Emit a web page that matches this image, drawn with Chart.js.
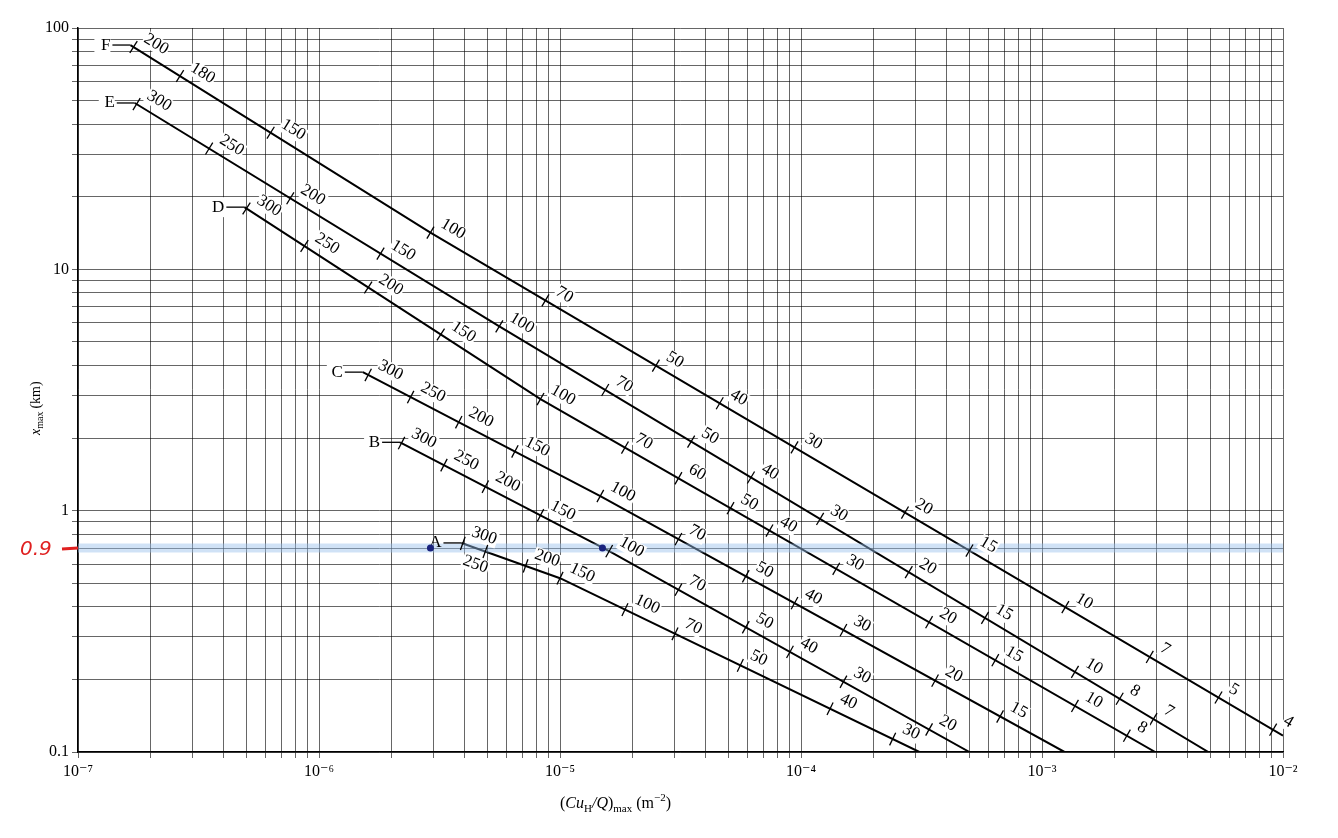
<!DOCTYPE html>
<html><head><meta charset="utf-8">
<script src="https://cdn.jsdelivr.net/npm/chart.js@4.4.1/dist/chart.umd.min.js"></script>
<style>html,body{margin:0;padding:0;background:#fff}#wrap{width:1338px;height:838px}</style>
</head><body><div id="wrap"><canvas id="c"></canvas></div>
<script>
// Curves (x = (Cu_H/Q)max, y = xmax km)
const curveNames = ['F','E','D','C','B','A'];
const lineF = [[1.65e-7,85],[2.9e-6,14.2],[1e-2,0.117]];
const lineE = [[1.72e-7,48.9],[5.6e-6,5.8],[4.9e-3,0.1]];
const lineD = [[4.9e-7,18.1],[8.3e-6,2.9],[2.95e-3,0.1]];
const lineC = [[1.52e-6,3.75],[1.47e-5,1.15],[1.24e-3,0.1]];
const lineB = [[2.17e-6,1.92],[1.6e-5,0.68],[5.0e-4,0.1]];
const lineA = [[3.9e-6,0.735],[1.0e-5,0.525],[3.1e-4,0.1]];
// labels along each curve: [x, text, below?]
const labF = [[1.7e-7,'200'],[2.65e-7,'180'],[6.3e-7,'150'],[2.9e-6,'100'],[8.7e-6,'70'],[2.5e-5,'50'],[4.6e-5,'40'],[9.4e-5,'30'],[2.7e-4,'20'],[5e-4,'15'],[1.25e-3,'10'],[2.8e-3,'7'],[5.4e-3,'5'],[9.1e-3,'4']];
const labE = [[1.75e-7,'300'],[3.5e-7,'250'],[7.6e-7,'200'],[1.8e-6,'150'],[5.6e-6,'100'],[1.54e-5,'70'],[3.5e-5,'50'],[6.2e-5,'40'],[1.2e-4,'30'],[2.8e-4,'20'],[5.8e-4,'15'],[1.37e-3,'10'],[2.1e-3,'8'],[2.9e-3,'7']];
const labD = [[5e-7,'300'],[8.7e-7,'250'],[1.6e-6,'200'],[3.2e-6,'150'],[8.3e-6,'100'],[1.86e-5,'70'],[3.1e-5,'60'],[5.1e-5,'50'],[7.4e-5,'40'],[1.4e-4,'30'],[3.4e-4,'20'],[6.4e-4,'15'],[1.37e-3,'10'],[2.25e-3,'8']];
const labC = [[1.6e-6,'300'],[2.4e-6,'250'],[3.8e-6,'200'],[6.5e-6,'150'],[1.47e-5,'100'],[3.1e-5,'70'],[5.9e-5,'50'],[9.4e-5,'40'],[1.5e-4,'30'],[3.6e-4,'20'],[6.7e-4,'15']];
const labB = [[2.2e-6,'300'],[3.3e-6,'250'],[4.9e-6,'200'],[8.3e-6,'150'],[1.6e-5,'100'],[3.1e-5,'70'],[5.9e-5,'50'],[9e-5,'40'],[1.5e-4,'30'],[3.4e-4,'20']];
const labA = [[3.95e-6,'300'],[4.9e-6,'250',true],[7.2e-6,'200'],[1e-5,'150'],[1.86e-5,'100'],[3e-5,'70'],[5.6e-5,'50'],[1.32e-4,'40'],[2.4e-4,'30']];
const xMajor = [1e-7,1e-6,1e-5,1e-4,1e-3,1e-2];
const xMajorLabels = ['10⁻⁷','10⁻⁶','10⁻⁵','10⁻⁴','10⁻³','10⁻²'];
const yMajor = [0.1,1,10,100];
const yMajorLabels = ['0.1','1','10','100'];
const markY = 0.70;
const markPts = [[2.9e-6,0.70],[1.5e-5,0.70]];

const lines=[lineF,lineE,lineD,lineC,lineB,lineA];
const labs=[labF,labE,labD,labC,labB,labA];
function gridVals(a,b){const v=[];for(let e=a;e<b;e++)for(let m=1;m<10;m++)v.push(m*Math.pow(10,e));v.push(Math.pow(10,b));return v;}
function yAt(line,x){const lx=Math.log10(x);for(let i=0;i<line.length-1;i++){const a=line[i],b=line[i+1];const la=Math.log10(a[0]),lb=Math.log10(b[0]);if(lx<=lb||i==line.length-2){const t=(lx-la)/(lb-la);return Math.pow(10,Math.log10(a[1])+t*(Math.log10(b[1])-Math.log10(a[1])));}}}
const datasets=lines.map((l,i)=>({label:curveNames[i],data:l.map(p=>({x:p[0],y:p[1]})),borderColor:'#000',borderWidth:2,pointRadius:0,showLine:true,fill:false}));
datasets.unshift({label:'mark',data:[{x:1e-7,y:markY},{x:1e-2,y:markY}],borderColor:'rgba(150,190,235,0.45)',borderWidth:9,pointRadius:0,showLine:true});
const serif='"Liberation Serif","DejaVu Serif",serif';
const deco={id:'deco',afterDatasetsDraw(ch){
 const c=ch.ctx,xs=ch.scales.x,ys=ch.scales.y;
 c.save();c.fillStyle='#000';c.strokeStyle='#000';c.font='17px '+serif;
 labs.forEach((L,i)=>{const line=lines[i];
  L.forEach(([x,t,below])=>{const y=yAt(line,x);const px=xs.getPixelForValue(x),py=ys.getPixelForValue(y);
   const p2x=xs.getPixelForValue(x*1.1),p2y=ys.getPixelForValue(yAt(line,x*1.1));
   const ang=Math.atan2(p2y-py,p2x-px);
   c.save();c.translate(px,py);c.rotate(ang);c.lineWidth=1.3;c.beginPath();c.moveTo(0,-7);c.lineTo(0,7);c.stroke();
   const w=c.measureText(t).width;const oy=below?24:-6;
   c.fillStyle='#fff';c.fillRect(below?-w/2-6:4,oy-16,w+2,16);c.fillStyle='#000';
   c.textAlign='left';c.textBaseline='bottom';c.fillText(t,below?-w/2-5:5,oy);c.restore();});
  const s=line[0];const sx=xs.getPixelForValue(s[0]),sy=ys.getPixelForValue(s[1]);
  c.lineWidth=1.3;c.beginPath();c.moveTo(sx-18,sy);c.lineTo(sx,sy);c.stroke();
  if(curveNames[i]!=='A'){c.fillStyle='#fff';c.fillRect(sx-36,sy-10,16,20);}c.fillStyle='#000';
  c.textAlign='right';c.textBaseline='middle';c.fillText(curveNames[i],sx-20,sy);
 });
 // marked points
 c.fillStyle='#1a237e';markPts.forEach(p=>{c.beginPath();c.arc(xs.getPixelForValue(p[0]),ys.getPixelForValue(p[1]),3.5,0,Math.PI*2);c.fill();});
 c.fillStyle='#000';
 // axis titles
 c.textBaseline='alphabetic';c.textAlign='left';
 let x0=560,y0=808;c.font='16px '+serif;c.fillText('(',x0,y0);x0+=c.measureText('(').width;
 c.font='italic 16px '+serif;c.fillText('Cu',x0,y0);x0+=c.measureText('Cu').width;
 c.font='11px '+serif;c.fillText('H',x0,y0+4);x0+=c.measureText('H').width;
 c.font='italic 16px '+serif;c.fillText('/Q',x0,y0);x0+=c.measureText('/Q').width;
 c.font='16px '+serif;c.fillText(')',x0,y0);x0+=c.measureText(')').width;
 c.font='11px '+serif;c.fillText('max',x0,y0+4);x0+=c.measureText('max').width+4;
 c.font='16px '+serif;c.fillText('(m',x0,y0);x0+=c.measureText('(m').width;
 c.font='11px '+serif;c.fillText('−2',x0,y0-7);x0+=c.measureText('−2').width;
 c.font='16px '+serif;c.fillText(')',x0,y0);
 c.save();c.translate(40,395);c.rotate(-Math.PI/2);c.textAlign='left';x0=-40;
 c.font='italic 14px '+serif;c.fillText('x',x0,0);x0+=c.measureText('x').width;
 c.font='10px '+serif;c.fillText('max',x0,3);x0+=c.measureText('max').width+3;
 c.font='14px '+serif;c.fillText('(km)',x0,0);c.restore();
 // red annotation
 const my=ys.getPixelForValue(markY);c.fillStyle='#e02020';c.strokeStyle='#e02020';
 c.font='italic 20px "DejaVu Sans",sans-serif';c.textAlign='left';c.textBaseline='middle';c.fillText('0.9',20,my+2);
 c.lineWidth=3;c.beginPath();c.moveTo(62,my+1);c.lineTo(78,my);c.stroke();
 c.restore();}};
new Chart(document.getElementById('c'),{type:'scatter',data:{datasets},
 options:{responsive:true,maintainAspectRatio:false,animation:false,
  layout:{padding:{left:0,right:55,top:28,bottom:0}},
  plugins:{legend:{display:false},tooltip:{enabled:false}},
  scales:{
   x:{type:'logarithmic',min:1e-7,max:1e-2,
    afterBuildTicks(s){s.ticks=gridVals(-7,-2).map(v=>({value:v}));},
    afterFit(s){s.height=86;},
    grid:{color:'rgba(0,0,0,0.6)',lineWidth:1,drawTicks:true,tickLength:6},border:{color:'#000',width:1.5},
    ticks:{autoSkip:false,maxRotation:0,color:'#000',font:{family:serif,size:16},padding:4,
     callback(v){const i=xMajor.findIndex(m=>Math.abs(m-v)/m<1e-6);return i>=0?xMajorLabels[i]:'';}}},
   y:{type:'logarithmic',min:0.1,max:100,
    afterBuildTicks(s){s.ticks=gridVals(-1,2).map(v=>({value:v}));},
    afterFit(s){s.width=78;},
    grid:{color:'rgba(0,0,0,0.6)',lineWidth:1,tickLength:6},border:{color:'#000',width:1.5},
    ticks:{autoSkip:false,color:'#000',font:{family:serif,size:16},
     callback(v){const i=yMajor.findIndex(m=>Math.abs(m-v)/m<1e-6);return i>=0?yMajorLabels[i]:'';}}}}},
 plugins:[deco]});
</script></body></html>
